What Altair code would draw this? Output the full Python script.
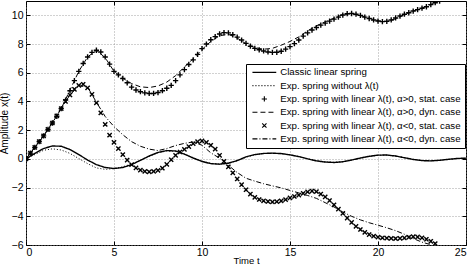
import altair as alt
import pandas as pd

FONT = "Liberation Sans"

labels = [
    "Classic linear spring",
    "Exp. spring without λ(t)",
    "Exp. spring with linear λ(t), α>0, stat. case",
    "Exp. spring with linear λ(t), α>0, dyn. case",
    "Exp. spring with linear λ(t), α<0, stat. case",
    "Exp. spring with linear λ(t), α<0, dyn. case",
]

x_ticks = [0, 5, 10, 15, 20, 25]
y_ticks = [-6, -4, -2, 0, 2, 4, 6, 8, 10]

# sampling grids (time)
t_half = [i * 0.5 for i in range(51)]
t_quarter = [i * 0.25 for i in range(95)]

classic = [0, 0.38, 0.72, 0.9, 0.88, 0.65, 0.3, -0.08, -0.4, -0.6,
           -0.67, -0.6, -0.4, -0.1, 0.2, 0.45, 0.58, 0.55, 0.33, 0.06,
           -0.18, -0.33, -0.37, -0.3, -0.12, 0.14, 0.3, 0.38, 0.4, 0.37,
           0.28, 0.16, 0.0, -0.14, -0.22, -0.25, -0.2, -0.08, 0.06, 0.18,
           0.26, 0.27, 0.2, 0.08, -0.04, -0.12, -0.14, -0.1, -0.03, 0.03,
           0.05]

no_lambda = [0, 0.3, 0.6, 0.7, 0.62, 0.38, 0.02, -0.33, -0.63, -0.73,
             -0.68, -0.55, -0.36, -0.1, 0.18, 0.42, 0.55, 0.53, 0.34, 0.08,
             -0.16, -0.31, -0.36, -0.3, -0.13, 0.12, 0.28, 0.37, 0.39, 0.36,
             0.28, 0.16, 0.01, -0.13, -0.21, -0.24, -0.2, -0.09, 0.05, 0.17,
             0.25, 0.26, 0.2, 0.09, -0.03, -0.11, -0.13, -0.1, -0.04, 0.02,
             0.04]

pos_dyn = [0, 0.8, 1.6, 2.5, 3.5, 4.8, 6.1, 7.1, 7.57, 7.05,
           6.1, 5.62, 5.25, 5.02, 4.97, 5.08, 5.35, 5.8, 6.4, 6.98,
           7.62, 8.18, 8.58, 8.68, 8.42, 8.02, 7.75, 7.64, 7.7, 7.92,
           8.18, 8.5, 8.92, 9.27, 9.55, 9.8, 10.05, 10.12, 9.98, 9.8,
           9.62, 9.58, 9.76, 10.05, 10.3, 10.5, 10.76, 11.0, 11.25]

neg_dyn = [0, 0.8, 1.6, 2.55, 3.55, 4.45, 5.1, 5.0, 3.95, 2.95,
           2.25, 1.68, 1.2, 0.88, 0.68, 0.58, 0.72, 0.93, 1.08, 1.18,
           0.95, 0.42, 0.05, -0.45, -0.95, -1.35, -1.55, -1.73, -1.88, -2.02,
           -2.2, -2.37, -2.55, -2.75, -3.05, -3.35, -3.7, -4.0, -4.25, -4.45,
           -4.62, -4.8, -5.0, -5.25, -5.55, -5.8, -5.98]

pos_stat = [0, 0.4, 0.8, 1.2, 1.6, 2.05, 2.5, 2.97, 3.5, 4.1,
            4.75, 5.45, 6.1, 6.65, 7.1, 7.42, 7.57, 7.45, 7.1, 6.6,
            6.1, 5.85, 5.6, 5.3, 5.0, 4.8, 4.68, 4.6, 4.56, 4.56,
            4.62, 4.75, 4.92, 5.12, 5.45, 5.85, 6.22, 6.58, 6.9, 7.28,
            7.68, 8.0, 8.3, 8.52, 8.7, 8.8, 8.78, 8.65, 8.48, 8.28,
            8.05, 7.85, 7.7, 7.6, 7.52, 7.45, 7.42, 7.43, 7.5, 7.65,
            7.82, 8.03, 8.28, 8.55, 8.78, 8.98, 9.15, 9.32, 9.46, 9.6,
            9.74, 9.88, 10.02, 10.12, 10.13, 10.08, 10.0, 9.88, 9.78, 9.68,
            9.6, 9.56, 9.58, 9.68, 9.82, 9.95, 10.08, 10.18, 10.3, 10.4,
            10.5, 10.6, 10.75, 10.88, 11.0]

neg_stat = [0, 0.4, 0.8, 1.2, 1.6, 2.05, 2.5, 3.0, 3.5, 4.0,
            4.45, 4.85, 5.12, 5.2, 4.95, 4.5, 3.9, 3.2, 2.4, 1.65,
            1.15, 0.72, 0.3, -0.08, -0.4, -0.63, -0.78, -0.87, -0.9, -0.87,
            -0.8, -0.65, -0.38, -0.06, 0.25, 0.48, 0.66, 0.86, 1.06, 1.2,
            1.25, 1.15, 0.95, 0.68, 0.25, -0.17, -0.55, -0.97, -1.4, -1.8,
            -2.15, -2.45, -2.68, -2.83, -2.92, -2.97, -3.0, -2.98, -2.93, -2.84,
            -2.72, -2.62, -2.52, -2.4, -2.3, -2.24, -2.28, -2.45, -2.65, -2.9,
            -3.2, -3.5, -3.8, -4.12, -4.43, -4.7, -4.92, -5.12, -5.27, -5.38,
            -5.45, -5.5, -5.52, -5.54, -5.55, -5.54, -5.51, -5.46, -5.42, -5.44,
            -5.5, -5.6, -5.74, -5.9]

line_rows = []
for lab, vals in [(labels[0], classic), (labels[1], no_lambda),
                  (labels[3], pos_dyn), (labels[5], neg_dyn)]:
    for t, v in zip(t_half, vals):
        line_rows.append({"t": t, "x": v, "series": lab})
lines_df = pd.DataFrame(line_rows)

point_rows = []
for lab, vals in [(labels[2], pos_stat), (labels[4], neg_stat)]:
    for t, v in zip(t_quarter, vals):
        point_rows.append({"t": t, "x": v, "series": lab})
points_df = pd.DataFrame(point_rows)

LINE = "M-4.5,0L4.5,0"
PLUS = "M-1,0L1,0M0,-1L0,1"
CROSS = "M-0.8,-0.8L0.8,0.8M-0.8,0.8L0.8,-0.8"

x_scale = alt.Scale(domain=[0, 25], nice=False, zero=False)
y_scale = alt.Scale(domain=[-6, 11], nice=False, zero=False)
dash_scale = alt.Scale(domain=labels,
                       range=[[1, 0], [1, 2], [1, 0], [5, 3], [1, 0], [5, 2, 1, 2]])
shape_scale = alt.Scale(domain=labels, range=[LINE, LINE, PLUS, LINE, CROSS, LINE])

legend = alt.Legend(
    title=None, orient="none", legendX=220, legendY=63,
    fillColor="white", strokeColor="black", padding=3.5, cornerRadius=0,
    labelFont=FONT, labelFontSize=9.7, labelColor="black", labelLimit=400,
    symbolSize=28, symbolStrokeWidth=1.1, symbolStrokeColor="black",
    symbolFillColor="transparent", symbolOffset=10, labelOffset=11,
    rowPadding=2.3,
)

common_axis = dict(
    tickSize=4, offset=-4, domain=False, tickColor="black", tickWidth=1,
    labelFont=FONT, labelFontSize=10.5, labelColor="black",
    titleFont=FONT, titleFontWeight="normal", titleColor="black",
)

x_bottom = alt.Axis(values=x_ticks, orient="bottom", grid=True, gridDash=[1, 2],
                    gridColor="#8c8c8c", gridWidth=0.8, labelPadding=2,
                    title="Time t", titlePadding=-2, titleFontSize=9.5, **common_axis)
y_left = alt.Axis(values=y_ticks, orient="left", grid=True, gridDash=[1, 2],
                  gridColor="#8c8c8c", gridWidth=0.8, labelPadding=3,
                  title="Amplitude x(t)", titlePadding=2, titleFontSize=10, **common_axis)
x_top = alt.Axis(values=x_ticks, orient="top", grid=False, labels=False,
                 title=None, **common_axis)
y_right = alt.Axis(values=y_ticks, orient="right", grid=False, labels=False,
                   title=None, **common_axis)

lines = alt.Chart(lines_df).mark_line(color="black", clip=True).encode(
    x=alt.X("t:Q", scale=x_scale, axis=x_bottom),
    y=alt.Y("x:Q", scale=y_scale, axis=y_left),
    strokeDash=alt.StrokeDash("series:N", scale=dash_scale, legend=legend),
    strokeWidth=alt.condition(alt.datum.series == labels[0], alt.value(1.4), alt.value(1.0)),
    order="t:Q",
)

points = alt.Chart(points_df).mark_point(
    color="black", filled=False, strokeWidth=1.4, size=28, clip=True, opacity=1
).encode(
    x=alt.X("t:Q", scale=x_scale, axis=x_top),
    y=alt.Y("x:Q", scale=y_scale, axis=y_right),
    shape=alt.Shape("series:N", scale=shape_scale, legend=legend),
    strokeDash=alt.StrokeDash("series:N", scale=dash_scale, legend=legend),
)

chart = alt.layer(lines, points).resolve_axis(
    x="independent", y="independent"
).properties(
    width=440, height=244,
    autosize=alt.AutoSizeParams(type="none"),
    padding={"left": 26, "top": 1, "right": 8, "bottom": 21},
    background="white",
).configure_view(stroke="black", strokeWidth=1)

chart.save("out.html", embed_options={"renderer": "svg", "actions": False})
